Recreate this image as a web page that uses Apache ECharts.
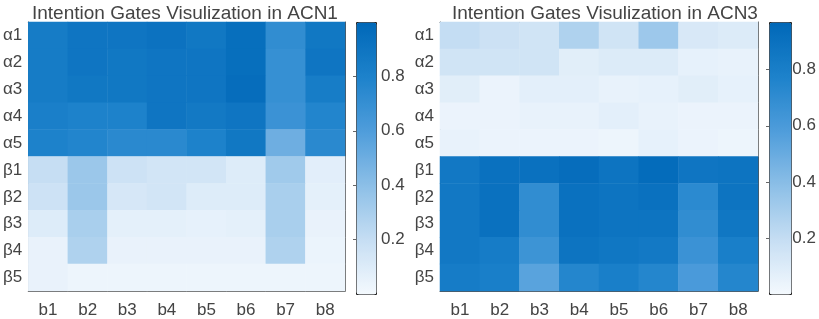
<!DOCTYPE html>
<html><head><meta charset="utf-8">
<script src="https://cdn.jsdelivr.net/npm/echarts@6/dist/echarts.min.js"></script>
<style>html,body{margin:0;padding:0;background:#fff}#c{width:819px;height:319px}</style>
</head><body><div id="c"></div>
<script>
const cols = ['b1','b2','b3','b4','b5','b6','b7','b8'];
const rows = ['α1','α2','α3','α4','α5','β1','β2','β3','β4','β5'];
const cbTicks = [0.2, 0.4, 0.6, 0.8];
const titleLeft = 'Intention Gates Visulization in ACN1';
const titleRight = 'Intention Gates Visulization in ACN3';
// rows top to bottom, values per column b1..b8
const acn1 = [
  [0.85,0.90,0.90,0.92,0.88,0.95,0.72,0.88],
  [0.85,0.90,0.88,0.90,0.90,0.95,0.70,0.90],
  [0.85,0.88,0.88,0.90,0.90,0.96,0.70,0.84],
  [0.82,0.80,0.80,0.90,0.87,0.90,0.68,0.78],
  [0.80,0.78,0.75,0.75,0.80,0.88,0.50,0.75],
  [0.20,0.35,0.17,0.15,0.15,0.10,0.33,0.08],
  [0.17,0.35,0.13,0.15,0.10,0.10,0.30,0.07],
  [0.10,0.30,0.07,0.07,0.06,0.07,0.30,0.05],
  [0.05,0.28,0.05,0.05,0.05,0.05,0.28,0.04],
  [0.05,0.03,0.03,0.03,0.03,0.03,0.03,0.03]
];
const acn3 = [
  [0.20,0.17,0.15,0.27,0.15,0.33,0.12,0.10],
  [0.15,0.15,0.15,0.08,0.10,0.10,0.06,0.05],
  [0.08,0.04,0.07,0.07,0.05,0.06,0.08,0.06],
  [0.04,0.04,0.05,0.05,0.07,0.05,0.04,0.04],
  [0.05,0.04,0.04,0.04,0.03,0.06,0.04,0.03],
  [0.85,0.90,0.90,0.93,0.88,0.94,0.87,0.88],
  [0.85,0.90,0.70,0.90,0.88,0.90,0.72,0.88],
  [0.85,0.90,0.70,0.90,0.88,0.88,0.70,0.86],
  [0.85,0.82,0.65,0.88,0.86,0.84,0.66,0.80],
  [0.82,0.80,0.55,0.75,0.80,0.75,0.60,0.75]
];
const rangeLeft = [0, 1.0];
const rangeRight = [0, 0.97];

const toData = m => { const d=[]; m.forEach((r,i)=>r.forEach((v,j)=>d.push([j,i,v]))); return d; };
const ramp = ['#f4f9fe','#c6def3','#8cbfe7','#4f9ddb','#1d82cb','#0068b8'];
const font = 'Liberation Sans, Arial, sans-serif';
const txt = '#444';

const grids = [
  {left:27, top:22, width:318, height:272},
  {left:440, top:22, width:318, height:272},
  {left:356, top:22, width:20, height:272},
  {left:769, top:22, width:22, height:272}
];
const xAxes = [], yAxes = [];
[0,1].forEach(g=>{
  xAxes.push({type:'category', data:cols, gridIndex:g, position:'bottom',
    axisLine:{show:true,lineStyle:{color:'#555'}}, axisTick:{show:false},
    axisLabel:{color:txt, fontSize:17, fontFamily:font, margin:11}});
  xAxes.push({type:'category', data:cols, gridIndex:g, position:'top',
    axisLine:{show:true,lineStyle:{color:'#555'}}, axisTick:{show:false}, axisLabel:{show:false}});
  yAxes.push({type:'category', data:rows, gridIndex:g, inverse:true, position:'left',
    axisLine:{show:true,lineStyle:{color:'#555'}}, axisTick:{show:false},
    axisLabel:{color:txt, fontSize:17, fontFamily:font, margin:6}});
  yAxes.push({type:'category', data:rows, gridIndex:g, inverse:true, position:'right',
    axisLine:{show:true,lineStyle:{color:'#555'}}, axisTick:{show:false}, axisLabel:{show:false}});
});
[[2,rangeLeft],[3,rangeRight]].forEach(([g,r])=>{
  xAxes.push({type:'value', gridIndex:g, show:false});
  yAxes.push({type:'value', gridIndex:g, min:r[0], max:r[1], interval:0.2, position:'right',
    axisLine:{show:false}, splitLine:{show:false},
    axisTick:{show:true, inside:true, length:3, customValues:cbTicks, lineStyle:{color:'#666'}},
    axisLabel:{color:txt, fontSize:17, fontFamily:font, margin:5, customValues:cbTicks,
      formatter: v => v.toFixed(1)}});
});

const option = {
  animation:false,
  backgroundColor:'#fff',
  title:[
    {text:titleLeft, left:27, top:-1, textStyle:{color:txt, fontSize:19, fontWeight:'normal', fontFamily:font}},
    {text:titleRight, left:447, top:-1, textStyle:{color:txt, fontSize:19, fontWeight:'normal', fontFamily:font}}
  ],
  grid:grids,
  xAxis:xAxes,
  yAxis:yAxes,
  visualMap:[
    {type:'continuous', seriesIndex:0, min:rangeLeft[0], max:rangeLeft[1], calculable:false, text:null, showLabel:false,
     left:356, top:22, itemWidth:20, itemHeight:272, padding:0, borderColor:'#222', borderWidth:1,
     inRange:{color:ramp}, textStyle:{fontSize:0}},
    {type:'continuous', seriesIndex:1, min:rangeRight[0], max:rangeRight[1], calculable:false, text:null, showLabel:false,
     left:769, top:22, itemWidth:22, itemHeight:272, padding:0, borderColor:'#222', borderWidth:1,
     inRange:{color:ramp}, textStyle:{fontSize:0}}
  ],
  series:[
    {type:'heatmap', xAxisIndex:0, yAxisIndex:0, data:toData(acn1), z:1},
    {type:'heatmap', xAxisIndex:2, yAxisIndex:2, data:toData(acn3), z:1}
  ]
};
const chart = echarts.init(document.getElementById('c'), null, {renderer:'canvas'});
chart.setOption(option);
</script></body></html>
